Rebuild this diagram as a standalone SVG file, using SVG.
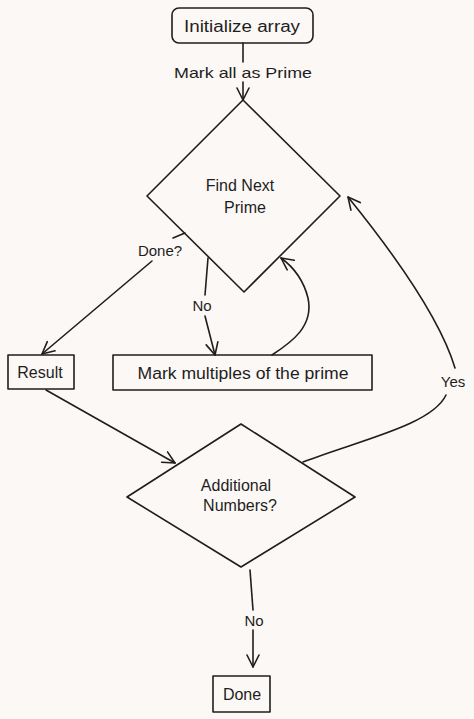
<svg xmlns="http://www.w3.org/2000/svg" width="474" height="719" viewBox="0 0 474 719">
<defs>
<style>
.n{fill:none;stroke:#1e1e1e;stroke-width:1.6;stroke-linejoin:round}
.c{fill:none;stroke:#1e1e1e;stroke-width:1.6;stroke-linecap:round}
.t{font-family:"Liberation Sans",Arial,sans-serif;font-size:16px;fill:#1e1e1e;text-anchor:middle;dominant-baseline:central}
.e{font-size:15px}
</style>
<marker id="ah" viewBox="0 0 14 14" refX="13" refY="7" markerWidth="14" markerHeight="14" markerUnits="userSpaceOnUse" orient="auto">
<path d="M1,1 L13,7 L1,13" fill="none" stroke="#1e1e1e" stroke-width="1.6" stroke-linecap="round" stroke-linejoin="round"/>
</marker>
</defs>
<rect width="474" height="719" fill="#fcf8f5"/>
<g id="connectors">
<path class="c" d="M243,43 L243,62"/>
<path class="c" d="M243,82 L243,100" marker-end="url(#ah)"/>
<text class="t e" x="243" y="72" textLength="138" lengthAdjust="spacingAndGlyphs">Mark all as Prime</text>
<path class="c" d="M185,233 L173,238"/>
<path class="c" d="M152,261 L42,354" marker-end="url(#ah)"/>
<text class="t e" x="160" y="250">Done?</text>
<path class="c" d="M208,258 L205,295"/>
<path class="c" d="M205,316 L215,355" marker-end="url(#ah)"/>
<text class="t e" x="202" y="305">No</text>
<path class="c" d="M272,355 C292,342 314,326 308,298 C303,278 292,266 281,258" marker-end="url(#ah)"/>
<path class="c" d="M46,390 L175,463" marker-end="url(#ah)"/>
<path class="c" stroke-width="2.2" d="M303,462 C360,440 432,425 446,395"/>
<path class="c" stroke-width="2" d="M455,368 C440,318 395,255 348,197" marker-end="url(#ah)"/>
<text class="t e" x="453" y="381">Yes</text>
<path class="c" d="M250,570 L253,610"/>
<path class="c" d="M253,630 L253,667" marker-end="url(#ah)"/>
<text class="t e" x="254" y="620">No</text>
</g>
<g id="init">
<rect class="n" x="172" y="8" width="141" height="35" rx="7"/>
<text class="t" x="242" y="26" textLength="116" lengthAdjust="spacingAndGlyphs">Initialize array</text>
</g>
<g id="findNextPrime">
<path class="n" d="M243,100 L340,196 L244,292 L147,196 Z"/>
<text class="t" x="240" y="185">Find Next</text>
<text class="t" x="245" y="207">Prime</text>
</g>
<g id="result">
<rect class="n" x="8" y="355" width="66" height="34"/>
<text class="t" x="40" y="372">Result</text>
</g>
<g id="markMultiples">
<rect class="n" x="113" y="355" width="259" height="35"/>
<text class="t" x="243" y="373" textLength="211" lengthAdjust="spacingAndGlyphs">Mark multiples of the prime</text>
</g>
<g id="additional">
<path class="n" d="M241,424 L355,497 L241,567 L127,497 Z"/>
<text class="t" x="236" y="485">Additional</text>
<text class="t" x="240" y="505">Numbers?</text>
</g>
<g id="done">
<rect class="n" x="213" y="676" width="57" height="36"/>
<text class="t" x="242" y="694">Done</text>
</g>
</svg>
